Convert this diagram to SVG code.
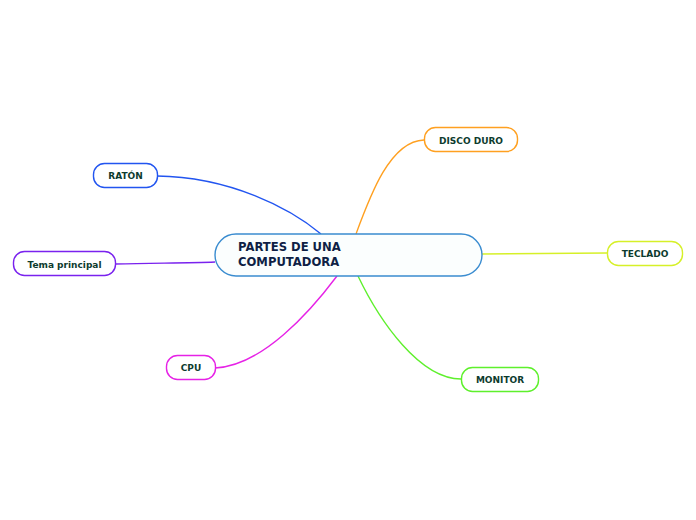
<svg xmlns="http://www.w3.org/2000/svg" width="696" height="520" viewBox="0 0 696 520">
<style>
.c{fill:none;stroke-width:1.4}
.n{fill:#ffffff;stroke-width:1.4}
.t{font-family:"DejaVu Sans",Verdana,sans-serif;font-weight:bold;font-size:9px;fill:#0d3b2e;text-anchor:middle}
.m{font-family:"DejaVu Sans",Verdana,sans-serif;font-weight:bold;font-size:11.6px;fill:#0f1f45}
</style>
<rect width="696" height="520" fill="#ffffff"/>
<g id="connectors">
<path class="c" stroke="#2255f0" d="M157,176 C230,177 290,208 321,234"/>
<path class="c" stroke="#7a22ee" d="M115,264 C160,263 190,263 215,262"/>
<path class="c" stroke="#e622e6" d="M215,368 C262,366 310,312 337,276"/>
<path class="c" stroke="#ffa020" d="M356,234 C370,196 390,141 424,140"/>
<path class="c" stroke="#d6f028" d="M482,254 L607,253"/>
<path class="c" stroke="#5ef02c" d="M358,276 C380,322 420,379 461,379"/>
</g>
<g id="central">
<rect x="215" y="234" width="267" height="42" rx="21" fill="#fbfefe" stroke="#3a8cd0" stroke-width="1.4"/>
<text class="m" x="238" y="251">PARTES DE UNA</text>
<text class="m" x="238" y="266">COMPUTADORA</text>
</g>
<g id="raton">
<rect class="n" x="93.5" y="163.5" width="64" height="24" rx="11" stroke="#2255f0"/>
<text class="t" x="125.5" y="179">RATÓN</text>
</g>
<g id="tema">
<rect class="n" x="13.5" y="251.5" width="102" height="24" rx="11" stroke="#7a22ee"/>
<text class="t" x="64.5" y="268">Tema principal</text>
</g>
<g id="cpu">
<rect class="n" x="166.5" y="355.5" width="49" height="24" rx="11" stroke="#e622e6"/>
<text class="t" x="191" y="371">CPU</text>
</g>
<g id="disco">
<rect class="n" x="424.5" y="127.5" width="93" height="24" rx="11" stroke="#ffa020"/>
<text class="t" x="471" y="144">DISCO DURO</text>
</g>
<g id="teclado">
<rect class="n" x="607.5" y="241.5" width="75" height="24" rx="11" stroke="#d6f028"/>
<text class="t" x="645" y="257">TECLADO</text>
</g>
<g id="monitor">
<rect class="n" x="461.5" y="367.5" width="77" height="24" rx="11" stroke="#5ef02c"/>
<text class="t" x="500" y="383">MONITOR</text>
</g>
</svg>
